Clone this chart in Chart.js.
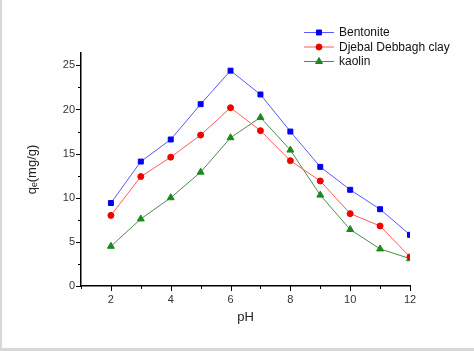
<!DOCTYPE html>
<html>
<head>
<meta charset="utf-8">
<script src="https://cdn.jsdelivr.net/npm/chart.js@4.4.0/dist/chart.umd.min.js"></script>
<style>
  html, body { margin: 0; padding: 0; background: #fff; }
  #wrap { width: 474px; height: 351px; position: relative; }
</style>
</head>
<body>
<div id="wrap"><canvas id="chart"></canvas></div>
<script>
// pH values and adsorbed amount q_e (mg/g)
const PH_VALUES  = [2, 3, 4, 5, 6, 7, 8, 9, 10, 11, 12];
const BENTONITE  = [9.4, 14.1, 16.6, 20.6, 24.4, 21.7, 17.5, 13.5, 10.9, 8.7, 5.8];
const DJEBAL     = [8.0, 12.4, 14.6, 17.1, 20.2, 17.6, 14.2, 11.9, 8.2, 6.8, 3.3];
const KAOLIN     = [4.5, 7.6, 10.0, 12.9, 16.8, 19.1, 15.4, 10.3, 6.4, 4.2, 3.1];
const SERIES_LABELS = ['Bentonite', 'Djebal Debbagh clay', 'kaolin'];

// tick positions (labels only on the major ones)
const X_TICKS = [1, 2, 3, 4, 5, 6, 7, 8, 9, 10, 11, 12];
const Y_TICKS = [0, 2.5, 5, 7.5, 10, 12.5, 15, 17.5, 20, 22.5, 25];

const X_MIN = 1, X_MAX = 12;
const Y_MIN = 0, Y_MAX = 26.4;

const FONT = "'Liberation Sans', Arial, sans-serif";

function toPoints(vals) {
  return PH_VALUES.map((x, i) => ({ x, y: vals[i] }));
}

// ── Custom legend, top right ─────────────────────────────────────────────────
const legendPlugin = {
  id: 'cornerLegend',
  afterDraw(chart) {
    const ctx = chart.ctx;
    ctx.save();
    chart.data.datasets.forEach((ds, i) => {
      const y = 32.5 + i * 14.5;
      ctx.strokeStyle = ds.borderColor;
      ctx.lineWidth = 1;
      ctx.beginPath();
      ctx.moveTo(304, y);
      ctx.lineTo(334, y);
      ctx.stroke();
      ctx.fillStyle = ds.pointBackgroundColor;
      ctx.strokeStyle = ds.pointBorderColor;
      Chart.helpers.drawPoint(ctx, {
        pointStyle: ds.pointStyle, radius: ds.pointRadius, rotation: 0, borderWidth: 1
      }, 319, y);
      ctx.fillStyle = '#111';
      ctx.font = '12px ' + FONT;
      ctx.textBaseline = 'middle';
      ctx.textAlign = 'left';
      ctx.fillText(ds.label, 339, y + 0.5);
    });
    ctx.restore();
  }
};

// ── Outward tick marks (major / minor) and page frame ───────────────────────
const tickPlugin = {
  id: 'outTicks',
  afterDraw(chart) {
    const ctx = chart.ctx;
    const { x, y } = chart.scales;
    const area = chart.chartArea;
    ctx.save();
    ctx.strokeStyle = '#000';
    ctx.lineWidth = 1;
    x.ticks.forEach(t => {
      const px = Math.round(x.getPixelForValue(t.value)) + 0.5;
      const len = t.value % 2 === 0 ? 5 : 3;
      ctx.beginPath();
      ctx.moveTo(px, area.bottom);
      ctx.lineTo(px, area.bottom + len);
      ctx.stroke();
    });
    y.ticks.forEach(t => {
      const py = Math.round(y.getPixelForValue(t.value)) + 0.5;
      const len = t.value % 5 === 0 ? 5 : 3;
      ctx.beginPath();
      ctx.moveTo(area.left, py);
      ctx.lineTo(area.left - len, py);
      ctx.stroke();
    });
    // light frame of the original figure
    ctx.fillStyle = '#d8d8d8';
    ctx.fillRect(0, 0, 2, chart.height);
    ctx.fillRect(0, chart.height - 3, chart.width, 3);
    ctx.restore();
  }
};

new Chart(document.getElementById('chart'), {
  type: 'line',
  data: {
    datasets: [
      {
        label: SERIES_LABELS[0],
        data: toPoints(BENTONITE),
        borderColor: '#5858ff',
        pointBackgroundColor: '#0000f0',
        pointBorderColor: '#0000f0',
        pointStyle: 'rect',
        pointRadius: 3.5,
      },
      {
        label: SERIES_LABELS[1],
        data: toPoints(DJEBAL),
        borderColor: '#ff5a5a',
        pointBackgroundColor: '#f00000',
        pointBorderColor: '#f00000',
        pointStyle: 'circle',
        pointRadius: 3,
      },
      {
        label: SERIES_LABELS[2],
        data: toPoints(KAOLIN),
        borderColor: '#4a8f4a',
        pointBackgroundColor: '#1f861f',
        pointBorderColor: '#1f861f',
        pointStyle: 'triangle',
        pointRadius: 4,
      }
    ].map(ds => Object.assign(ds, { borderWidth: 1, pointBorderWidth: 1, tension: 0, fill: false }))
  },
  options: {
    responsive: true,
    maintainAspectRatio: false,
    animation: false,
    layout: { padding: { left: 0, top: 53, right: 64, bottom: 0 } },
    plugins: {
      legend: { display: false },
      tooltip: { enabled: false }
    },
    scales: {
      x: {
        type: 'linear',
        min: X_MIN, max: X_MAX,
        grid: { display: false, drawTicks: false },
        border: { display: true, color: '#000', width: 1.5 },
        ticks: {
          padding: 7,
          color: '#333',
          font: { family: FONT, size: 11 },
          callback: v => (v % 2 === 0 ? v : '')
        },
        afterBuildTicks: scale => { scale.ticks = X_TICKS.map(v => ({ value: v })); },
        title: {
          display: true,
          text: 'pH',
          color: '#222',
          font: { family: FONT, size: 13 },
          padding: { top: 0, bottom: 26 }
        },
        afterFit: scale => { scale.height = 65; }
      },
      y: {
        min: Y_MIN, max: Y_MAX,
        grid: { display: false, drawTicks: false },
        border: { display: true, color: '#000', width: 1.5 },
        ticks: {
          padding: 6,
          color: '#333',
          font: { family: FONT, size: 11 },
          callback: v => (v % 5 === 0 ? v : '')
        },
        afterBuildTicks: scale => { scale.ticks = Y_TICKS.map(v => ({ value: v })); },
        title: {
          display: true,
          text: 'qₑ(mg/g)',
          color: '#222',
          font: { family: FONT, size: 13 },
          padding: { top: 25, bottom: 0 }
        },
        afterFit: scale => { scale.width = 81; }
      }
    }
  },
  plugins: [legendPlugin, tickPlugin]
});
</script>
</body>
</html>
